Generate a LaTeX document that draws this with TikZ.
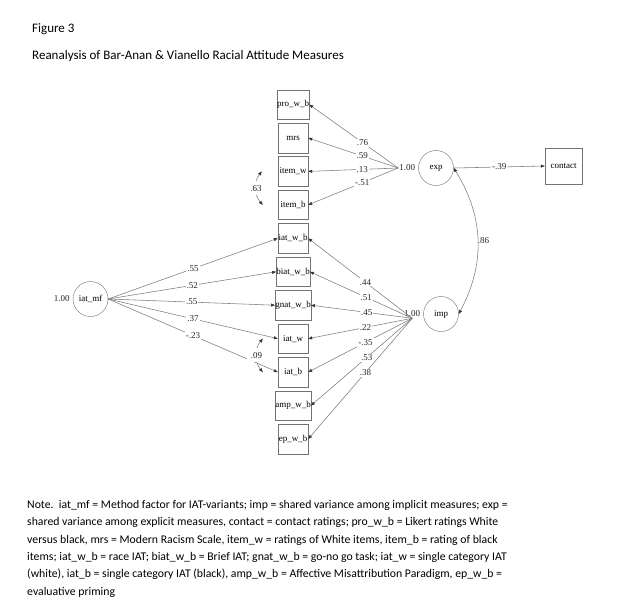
\documentclass[tikz,border=0pt]{standalone}
\usepackage{fontspec}
\setmainfont{Carlito}
\newfontfamily\semfont{Liberation Serif}
\usepackage{tikz}
\usetikzlibrary{arrows.meta, positioning, calc}
\definecolor{linegray}{HTML}{7D7D7D}
\definecolor{boxgray}{HTML}{727272}

\begin{document}
\begin{tikzpicture}[
  x=1pt, y=-1pt,
  node distance=3.55pt,
  ind/.style={
    draw=boxgray, minimum width=30pt, minimum height=29.5pt,
    inner sep=0pt, font=\fontsize{9}{10}\semfont
  },
  lat/.style={
    draw=boxgray, circle, minimum size=35pt, inner sep=0pt,
    font=\fontsize{9}{10}\semfont
  },
  coef/.style={fill=white, text=black!85, inner sep=1pt, font=\fontsize{9}{10}\semfont},
  arr/.style={-{Triangle[length=4pt,width=3pt,color=black!80]}, linegray, line width=0.55pt},
  cov/.style={{Triangle[length=4pt,width=3pt,color=black!80]}-{Triangle[length=4pt,width=3pt,color=black!80]}, linegray, line width=0.55pt},
  txt/.style={font=\fontsize{11.75}{17.4}\selectfont, inner sep=0pt},
  head/.style={font=\fontsize{13}{15}\selectfont, inner sep=0pt}
]
  \fill[white] (0,0) rectangle (623,611);
  \useasboundingbox (0,0) rectangle (623,611);

  \node[head, anchor=base west] (fig) at (32,32) {Figure 3};
  \node[head, anchor=base west] (title) at (32,59) {Reanalysis of Bar-Anan \& Vianello Racial Attitude Measures};

  \node[ind] (pro) at (293,104.5) {pro\_w\_b};
  \node[ind, below=of pro] (mrs) {mrs};
  \node[ind, below=of mrs] (itemw) {item\_w};
  \node[ind, below=of itemw] (itemb) {item\_b};
  \node[ind, below=of itemb] (iatwb) {iat\_w\_b};
  \node[ind, below=of iatwb] (biat) {biat\_w\_b};
  \node[ind, below=of biat] (gnat) {gnat\_w\_b};
  \node[ind, below=of gnat] (iatw) {iat\_w};
  \node[ind, below=of iatw] (iatb) {iat\_b};
  \node[ind, below=of iatb] (amp) {amp\_w\_b};
  \node[ind, below=of amp] (ep) {ep\_w\_b};

  \node[lat] (exp) at (436,168) {exp};
  \node[lat] (imp) at (441,314) {imp};
  \node[lat] (iatmf) at (90.5,299) {iat\_mf};
  \node[ind, minimum width=37pt, minimum height=36pt] (contact) at (563.5,166) {contact};

  \node[coef, left=2pt of exp] (expvar) {1.00};
  \node[coef, left=2pt of imp] (impvar) {1.00};
  \node[coef, left=2pt of iatmf] (mfvar) {1.00};

  \draw[arr] (expvar.west) -- node[coef, pos=0.4] {.76} (pro.east);
  \draw[arr] (expvar.west) -- node[coef, pos=0.4] {.59} (mrs.east);
  \draw[arr] (expvar.west) -- node[coef, pos=0.4] {.13} (itemw.east);
  \draw[arr] (expvar.west) -- node[coef, pos=0.4] {-.51} (itemb.east);

  \draw[arr] (impvar.south) -- node[coef, pos=0.45] {.44} (iatwb.east);
  \draw[arr] (impvar.south) -- node[coef, pos=0.45] {.51} (biat.east);
  \draw[arr] (impvar.south) -- node[coef, pos=0.45] {.45} (gnat.east);
  \draw[arr] (impvar.south) -- node[coef, pos=0.45] {.22} (iatw.east);
  \draw[arr] (impvar.south) -- node[coef, pos=0.45] {-.35} (iatb.east);
  \draw[arr] (impvar.south) -- node[coef, pos=0.45] {.53} (amp.east);
  \draw[arr] (impvar.south) -- node[coef, pos=0.45] {.38} (ep.east);

  \draw[arr] (iatmf.east) -- node[coef] {.55} (iatwb.west);
  \draw[arr] (iatmf.east) -- node[coef] {.52} (biat.west);
  \draw[arr] (iatmf.east) -- node[coef] {.55} (gnat.west);
  \draw[arr] (iatmf.east) -- node[coef] {.37} (iatw.west);
  \draw[arr] (iatmf.east) -- node[coef] {-.23} (iatb.west);

  \draw[arr] (exp.east) -- node[coef] {-.39} (contact.west);
  \draw[cov] (exp.east) to[bend left=30] node[coef, right, fill=none, inner sep=0pt] {.86} (imp.east);

  \draw[cov] ([xshift=-16pt]itemw.west) to[bend right=40] node[coef, inner sep=4pt] {.63} ([xshift=-15pt]itemb.west);
  \draw[cov] ([xshift=-15pt]iatw.west) to[bend right=40] node[coef, inner sep=4pt] {.09} ([xshift=-15pt]iatb.west);

  \node[txt, anchor=north west, align=left] (note) at (27,500) {%
    Note.\ \ iat\_mf = Method factor for IAT-variants; imp = shared variance among implicit measures; exp =\\
    shared variance among explicit measures, contact = contact ratings; pro\_w\_b = Likert ratings White\\
    versus black, mrs = Modern Racism Scale, item\_w = ratings of White items, item\_b = rating of black\\
    items; iat\_w\_b = race IAT; biat\_w\_b = Brief IAT; gnat\_w\_b = go-no go task; iat\_w = single category IAT\\
    (white), iat\_b = single category IAT (black), amp\_w\_b = Affective Misattribution Paradigm, ep\_w\_b =\\
    evaluative priming};
\end{tikzpicture}
\end{document}
